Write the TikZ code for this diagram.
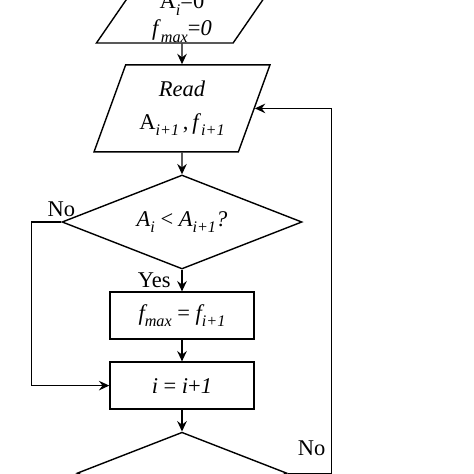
\documentclass[tikz,border=0pt]{standalone}
\usepackage{fontspec}
\setmainfont{Liberation Serif}
\usepackage{tikz}
\usetikzlibrary{shapes.geometric, arrows.meta}
\newcommand{\idx}[1]{\raisebox{-0.3em}{\fontsize{11.5}{12}\selectfont #1}}
\tikzstyle{io} = [trapezium, trapezium left angle=67.5, trapezium right angle=112.5, trapezium stretches=true, minimum width=4.4cm, minimum height=2.175cm, text centered, align=center, draw=black]
\tikzstyle{process} = [rectangle, minimum width=3.6cm, minimum height=1.175cm, text centered, draw=black]
\tikzstyle{decision} = [diamond, aspect=2.55, minimum width=6cm, minimum height=2.35cm, text centered, inner sep=0pt, draw=black]
\tikzstyle{arrow} = [->,>={Stealth[length=2.6mm,width=2.4mm,inset=0.9mm]}]

\begin{document}
\begin{tikzpicture}[node distance=2cm, line width=1pt, font=\fontsize{16}{19}\selectfont]
\clip (0,0) rectangle (11.85,-11.85);
\node (init) [io, minimum width=4.3cm, minimum height=1.25cm, inner sep=0pt] at (4.55,-0.45) {A\idx{\textit{i}}=0\\\textit{f}\idx{\textit{max}}=\textit{0}};
\node (read) [io, below of=init, yshift=-0.26cm] {\textit{Read}\\[4pt]A\idx{\textit{i+1}}\,,\,\textit{f}\idx{\textit{i+1}}};
\node (dec1) [decision, below of=read, yshift=-0.84cm] {\textit{A\idx{i}} < \textit{A\idx{i+1}?}};
\node (fmax) [process, below of=dec1, yshift=-0.34cm] {\textit{f\idx{max}} = \textit{f\idx{i+1}}};
\node (inc) [process, below of=fmax, yshift=0.25cm] {\textit{i} = \textit{i}+\textit{1}};
\node (dec2) [decision, below of=inc, yshift=-0.19cm, minimum width=5.25cm, minimum height=2.05cm] {};

\draw [arrow] (init) -- (read);
\draw [arrow] (read) -- (dec1);
\draw [arrow] (dec1) -- node[anchor=east, xshift=-0.15cm] {Yes} (fmax);
\draw [arrow] (fmax) -- (inc);
\draw [arrow] (inc) -- (dec2);

\draw [arrow](dec1.west) node[anchor=south] {No} -- ++(-0.75,0) |- (inc.west);
\draw [arrow](dec2.east) node[anchor=south, xshift=0.6cm, yshift=0.3cm] {No} -- ++(1.1,0) |- (read.east);

\end{tikzpicture}
\end{document}
